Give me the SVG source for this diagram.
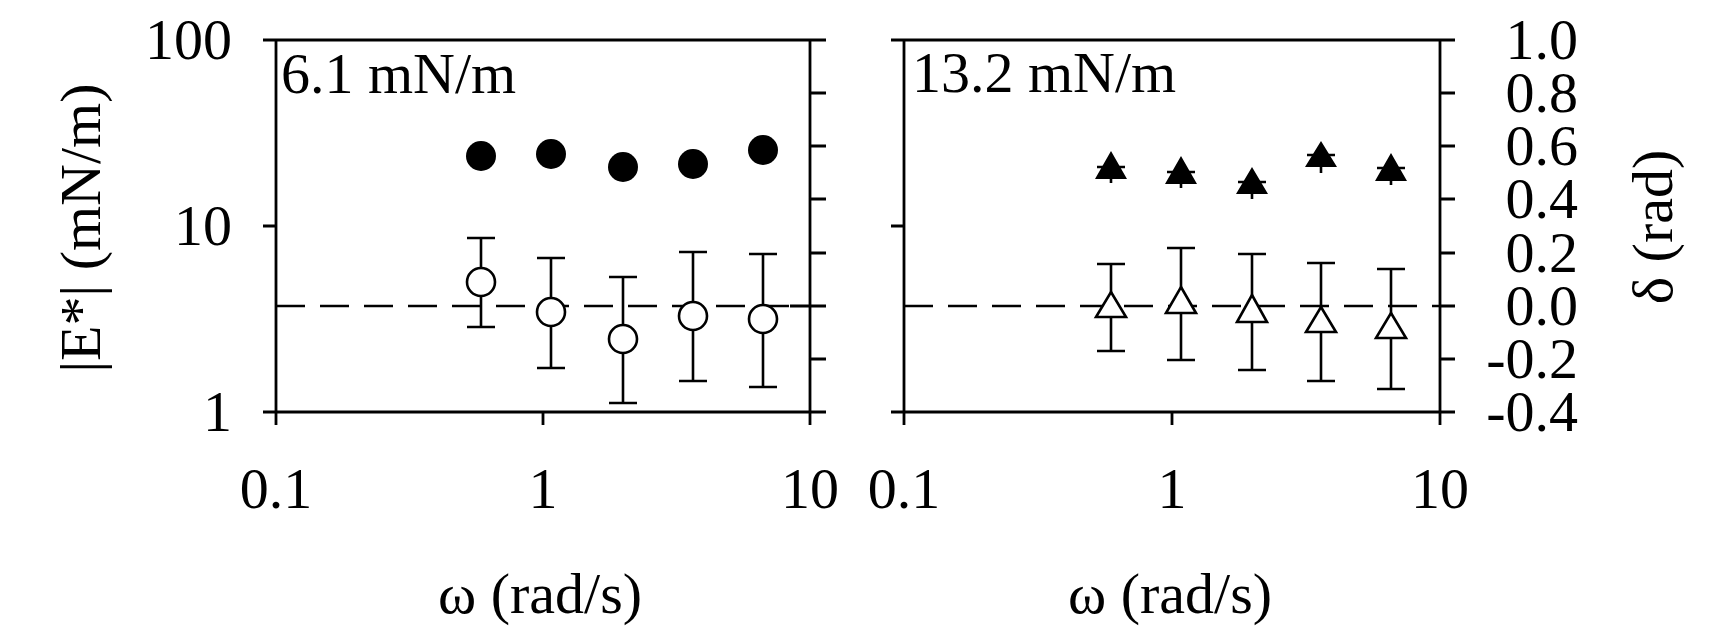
<svg xmlns="http://www.w3.org/2000/svg" width="1711" height="639" viewBox="0 0 1711 639" font-family="Liberation Serif, Times New Roman, serif">
<style>
text{font-family:'Liberation Serif',serif;font-size:58px;fill:#000}
.ax{stroke:#000;stroke-width:2.8;fill:none}
.eb{stroke:#000;stroke-width:2.6;fill:none}
.dash{stroke:#000;stroke-width:2.6;stroke-dasharray:29 15;fill:none}
.r{text-anchor:end}
.m{text-anchor:middle}
.oc{fill:#fff;stroke:#000;stroke-width:2.6}
.ot{fill:#fff;stroke:#000;stroke-width:2.6}
</style>
<rect width="1711" height="639" fill="#fff"/>
<g id="left-panel">
<path class="ax" d="M263,40H826M263,412H826M276,40V412M810,40V412M263,226H276M276,412V425M543,412V425M810,412V425M810,93H826M810,146H826M810,199H826M810,253H826M810,359H826"/>
<path class="dash" d="M276,306H790"/>
<path class="ax" d="M790,306H826"/>
<text class="r" x="232" y="59">100</text>
<text class="r" x="232" y="245">10</text>
<text class="r" x="232" y="431">1</text>
<text class="m" x="276" y="508">0.1</text>
<text class="m" x="543" y="508">1</text>
<text class="m" x="810" y="508">10</text>
<text x="281" y="93">6.1 mN/m</text>
<text class="m" x="540" y="613">ω (rad/s)</text>
<text class="m" transform="translate(100,228) rotate(-90)">|E*| (mN/m)</text>
<g fill="#000">
<circle cx="481" cy="156" r="15"/><circle cx="551" cy="154" r="15"/><circle cx="623" cy="167" r="15"/><circle cx="693" cy="164" r="15"/><circle cx="763" cy="150" r="15"/>
</g>
<path class="eb" d="M481,238V327M467,238H495M467,327H495M551,258V368M537,258H565M537,368H565M623,277V403M609,277H637M609,403H637M693,252V381M679,252H707M679,381H707M763,254V387M749,254H777M749,387H777"/>
<circle class="oc" cx="481" cy="282" r="14"/><circle class="oc" cx="551" cy="312" r="14"/><circle class="oc" cx="623" cy="339" r="14"/><circle class="oc" cx="693" cy="316" r="14"/><circle class="oc" cx="763" cy="319" r="14"/>
</g>
<g id="right-panel">
<path class="ax" d="M891,40H1455M891,412H1455M904,40V412M1440,40V412M891,226H904M904,412V425M1172,412V425M1440,412V425M1440,93H1455M1440,146H1455M1440,199H1455M1440,253H1455M1440,306H1455M1440,359H1455"/>
<path class="dash" d="M904,306H1440"/>
<text class="m" x="904" y="508">0.1</text>
<text class="m" x="1172" y="508">1</text>
<text class="m" x="1440" y="508">10</text>
<text x="912" y="92">13.2 mN/m</text>
<text class="m" x="1170" y="613">ω (rad/s)</text>
<text class="r" x="1578" y="59">1.0</text>
<text class="r" x="1578" y="112">0.8</text>
<text class="r" x="1578" y="165">0.6</text>
<text class="r" x="1578" y="218">0.4</text>
<text class="r" x="1578" y="272">0.2</text>
<text class="r" x="1578" y="325">0.0</text>
<text class="r" x="1578" y="378">-0.2</text>
<text class="r" x="1578" y="431">-0.4</text>
<text class="m" transform="translate(1672,227) rotate(-90)">δ (rad)</text>
<g fill="#000">
<path d="M1111,151L1127,179H1095Z M1181,156L1197,184H1165Z M1252,167L1268,194H1236Z M1321,141L1337,167H1305Z M1391,153L1407,181H1375Z"/>
</g>
<path class="eb" d="M1111,158V183M1097,167H1125M1181,163V188M1167,172H1195M1252,174V199M1238,182H1266M1321,148V173M1307,155H1335M1391,160V185M1377,168H1405"/>
<path class="eb" d="M1111,264V351M1097,264H1125M1097,351H1125M1181,248V360M1167,248H1195M1167,360H1195M1252,254V370M1238,254H1266M1238,370H1266M1321,263V381M1307,263H1335M1307,381H1335M1391,269V389M1377,269H1405M1377,389H1405"/>
<path class="ot" d="M1111,292L1126,317H1096Z M1181,287L1196,313H1166Z M1252,295L1267,322H1237Z M1321,307L1336,332H1306Z M1391,313L1406,338H1376Z"/>
</g>
</svg>
